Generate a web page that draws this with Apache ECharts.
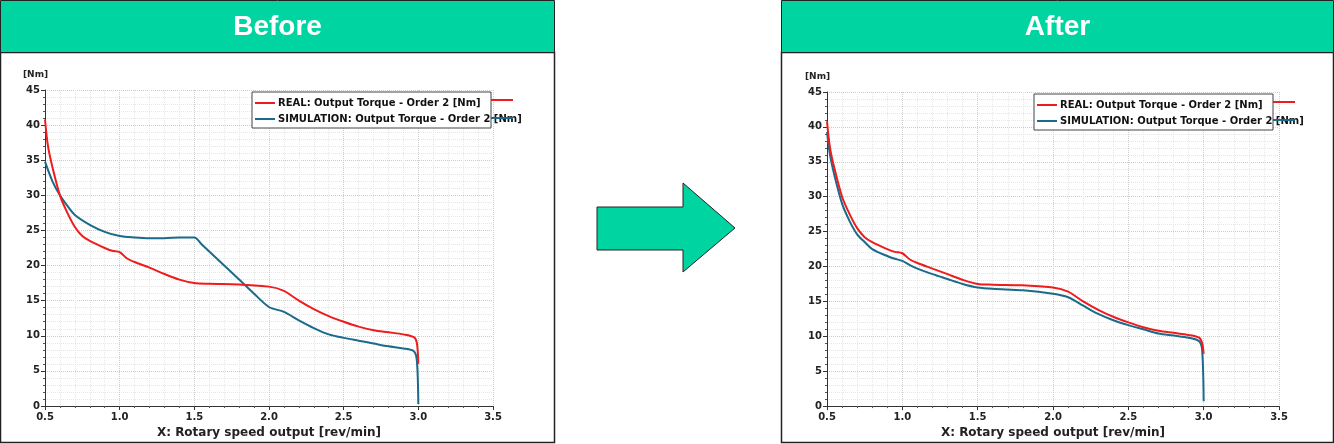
<!DOCTYPE html><html><head><meta charset="utf-8">
<script src="https://cdn.jsdelivr.net/npm/echarts@6/dist/echarts.min.js"></script>
<style>html,body{margin:0;padding:0;background:#fff}#c{width:1334px;height:444px}</style></head><body><div id="c"></div><script>
const beforeReal=[[0.5,40.8],[0.52,37],[0.55,34],[0.6,30],[0.65,27.5],[0.7,25.5],[0.75,24.2],[0.8,23.5],[0.9,22.5],[0.95,22.1],[1.0,21.9],[1.05,21],[1.1,20.5],[1.2,19.7],[1.3,18.8],[1.4,18],[1.5,17.5],[1.6,17.4],[1.8,17.3],[2.0,17],[2.1,16.4],[2.2,15],[2.3,13.8],[2.4,12.8],[2.5,12],[2.6,11.3],[2.7,10.8],[2.8,10.5],[2.9,10.2],[2.97,9.8],[2.99,9],[3.0,6]];
const beforeSim=[[0.5,34.8],[0.55,32],[0.6,30],[0.65,28.5],[0.7,27.2],[0.8,25.8],[0.9,24.8],[1.0,24.2],[1.1,24],[1.2,23.9],[1.3,23.9],[1.4,24],[1.5,24],[1.55,23],[1.6,22],[1.7,20],[1.8,18],[1.9,16],[2.0,14.1],[2.1,13.4],[2.2,12.2],[2.3,11.1],[2.4,10.2],[2.5,9.7],[2.6,9.3],[2.7,8.9],[2.8,8.5],[2.9,8.2],[2.97,7.8],[2.99,6.5],[3.0,0.3]];
const afterReal=[[0.5,40.8],[0.52,37],[0.55,34],[0.6,30],[0.65,27.5],[0.7,25.5],[0.75,24.2],[0.8,23.5],[0.9,22.5],[0.95,22.1],[1.0,21.9],[1.05,21],[1.1,20.5],[1.2,19.7],[1.3,18.9],[1.4,18.1],[1.5,17.5],[1.6,17.4],[1.8,17.3],[2.0,17],[2.1,16.4],[2.2,15],[2.3,13.8],[2.4,12.8],[2.5,12],[2.6,11.3],[2.7,10.8],[2.8,10.5],[2.9,10.2],[2.97,9.8],[2.99,9],[3.0,7.5]];
const afterSim=[[0.5,39.3],[0.52,36],[0.55,33],[0.6,29],[0.65,26.5],[0.7,24.6],[0.75,23.5],[0.8,22.5],[0.9,21.5],[0.95,21.1],[1.0,20.8],[1.05,20.2],[1.1,19.7],[1.2,18.9],[1.3,18.2],[1.4,17.5],[1.5,17],[1.6,16.8],[1.8,16.6],[2.0,16.1],[2.1,15.6],[2.2,14.4],[2.3,13.2],[2.4,12.3],[2.5,11.6],[2.6,11],[2.7,10.4],[2.8,10.1],[2.9,9.8],[2.97,9.3],[2.99,8],[3.0,0.7]];
const titles=['Before','After'];
const legendNames=['REAL: Output Torque - Order 2 [Nm]','SIMULATION: Output Torque - Order 2 [Nm]'];
const xTitle='X: Rotary speed output [rev/min]';
const yUnit='[Nm]';
const RED='#ee1c1c',BLUE='#1a6a8c',GREEN='#00d4a0';
const chart=echarts.init(document.getElementById('c'));
const grids=[{left:45,top:90,width:448,height:316},{left:827,top:92,width:452,height:315}];
function xa(i){return {type:'value',gridIndex:i,min:0.5,max:3.5,interval:0.5,
 axisLabel:{formatter:v=>v.toFixed(1),color:'#222',fontWeight:'bold',fontSize:10,fontFamily:'DejaVu Sans',margin:6},
 axisLine:{lineStyle:{color:'#333'}},axisTick:{show:true,inside:false,length:4,lineStyle:{color:'#333'}},
 minorTick:{show:true,splitNumber:5,length:2,lineStyle:{color:'#555'}},
 splitLine:{lineStyle:{color:'#ccc',type:'dotted'}},minorSplitLine:{show:true,lineStyle:{color:'#e6e6e6',type:'dotted'}},
 name:xTitle,nameLocation:'middle',nameGap:19,nameTextStyle:{color:'#222',fontWeight:'bold',fontSize:12,fontFamily:'DejaVu Sans'}};}
function ya(i){return {type:'value',gridIndex:i,min:0,max:45,interval:5,
 axisLabel:{color:'#222',fontWeight:'bold',fontSize:10,fontFamily:'DejaVu Sans',margin:5},
 axisLine:{show:true,lineStyle:{color:'#333'}},axisTick:{show:true,length:4,lineStyle:{color:'#333'}},
 minorTick:{show:true,splitNumber:5,length:2,lineStyle:{color:'#555'}},
 splitLine:{lineStyle:{color:'#ccc',type:'dotted'}},minorSplitLine:{show:true,lineStyle:{color:'#e6e6e6',type:'dotted'}}};}
function ser(d,c,i){return {type:'line',data:d,xAxisIndex:i,yAxisIndex:i,showSymbol:false,smooth:0.3,lineStyle:{color:c,width:2},itemStyle:{color:c},z:3};}
const g=[];
const pans=[[0,555],[781,553]];
pans.forEach((p,i)=>{
 g.push({type:'rect',shape:{x:p[0]+0.5,y:52.5,width:p[1]-1,height:390},style:{fill:'none',stroke:'#222',lineWidth:1.5},z:0});
 g.push({type:'rect',shape:{x:p[0]+0.5,y:0.5,width:p[1]-1,height:52},style:{fill:GREEN,stroke:'#222',lineWidth:1},z:1});
 g.push({type:'text',x:p[0]+p[1]/2,y:27,style:{text:titles[i],fill:'#fff',font:'bold 28px "Liberation Sans"',align:'center',verticalAlign:'middle'},z:2});
 const gr=grids[i];
 g.push({type:'text',x:gr.left-22,y:gr.top-20,style:{text:yUnit,fill:'#222',font:'bold 9px "DejaVu Sans"'},z:2});
 const lx=gr.left+207,ly=gr.top+2,lw=239,lh=36;
 g.push({type:'rect',shape:{x:lx,y:ly,width:lw,height:lh},style:{fill:'#fff',stroke:'#444',lineWidth:1},z:5});
 [RED,BLUE].forEach((c,k)=>{
  const yy=ly+11+k*16;
  g.push({type:'line',shape:{x1:lx+3,y1:yy,x2:lx+23,y2:yy},style:{stroke:c,lineWidth:2},z:6});
  g.push({type:'text',x:lx+26,y:yy,style:{text:legendNames[k],fill:'#111',font:'bold 10px "DejaVu Sans"',verticalAlign:'middle'},z:6});
  g.push({type:'line',shape:{x1:lx+lw,y1:yy-3+k*2,x2:lx+lw+22,y2:yy-3+k*2},style:{stroke:c,lineWidth:2},z:6});
 });
});
g.push({type:'polygon',shape:{points:[[597,207],[683,207],[683,183],[735,228],[683,272],[683,250],[597,250]]},style:{fill:GREEN,stroke:'#222',lineWidth:1},z:1});
chart.setOption({animation:false,grid:grids,xAxis:[xa(0),xa(1)],yAxis:[ya(0),ya(1)],
 series:[ser(beforeSim,BLUE,0),ser(beforeReal,RED,0),ser(afterSim,BLUE,1),ser(afterReal,RED,1)],graphic:g});
</script></body></html>
